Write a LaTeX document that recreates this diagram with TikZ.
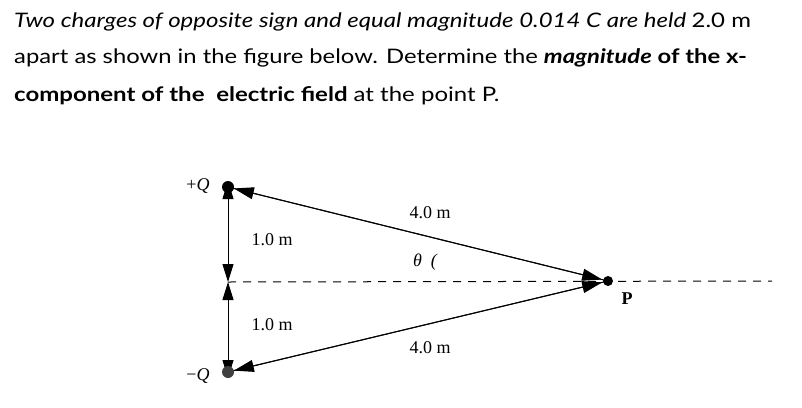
\documentclass[tikz,border=0pt]{standalone}
\usepackage{fontspec}
\setmainfont{Lato}
\newfontfamily\fig{Liberation Serif}
\usetikzlibrary{arrows.meta}
\begin{document}
\begin{tikzpicture}[x=1pt,y=-1pt,
  txt/.style={anchor=west,inner sep=0,font=\fontsize{20}{24}\selectfont},
  lab/.style={inner sep=0,font=\fig\fontsize{18}{20}\selectfont},
  arr/.style={line width=1pt,shorten >=6pt,-{Triangle[length=20pt,width=12pt]}},
  dbl/.style={line width=1pt,{Triangle[length=18pt,width=11pt]}-{Triangle[length=18pt,width=11pt]}}]
\useasboundingbox (0,0) rectangle (802,407);
\node[txt] (l1) at (14,22) {\scalebox{1.2}[1]{\itshape Two charges of opposite sign and equal magnitude 0.014 C are held \upshape 2.0 m}};
\node[txt] (l2) at (14,58) {\scalebox{1.19}[1]{apart as shown in the figure below. Determine the \textbf{\textit{magnitude} of the x-}}};
\node[txt] (l3) at (14,96) {\scalebox{1.2}[1]{\textbf{component of the\ \ electric field} at the point P.}};
\coordinate (pq) at (228,187);
\coordinate (nq) at (228,372);
\coordinate (m) at (228,282);
\coordinate (P) at (608,281);
\coordinate (e) at (772,281);
\draw[line width=1pt,dash pattern=on 8pt off 7pt] (m) -- (e);
\draw[arr] (P) -- (pq);
\draw[arr] (pq) -- (P);
\draw[arr] (P) -- (nq);
\draw[arr] (nq) -- (P);
\draw[dbl] ([yshift=6pt]pq) -- (m);
\draw[dbl] (m) -- ([yshift=-6pt]nq);
\fill (pq) circle (6pt);
\fill[black!75] (nq) circle (6pt);
\fill (P) circle (5pt);
\node[lab] (a) at (198,186) {+\textit{Q}};
\node[lab] (b) at (198,376) {−\textit{Q}};
\node[lab] (c) at (272,240) {1.0 m};
\node[lab] (d) at (272,325) {1.0 m};
\node[lab] (f) at (430,213) {4.0 m};
\node[lab] (g) at (430,348) {4.0 m};
\node[lab] (h) at (425,262) {\itshape θ\ \ (};
\node[lab] (p) at (627,299) {\bfseries P};
\end{tikzpicture}
\end{document}
